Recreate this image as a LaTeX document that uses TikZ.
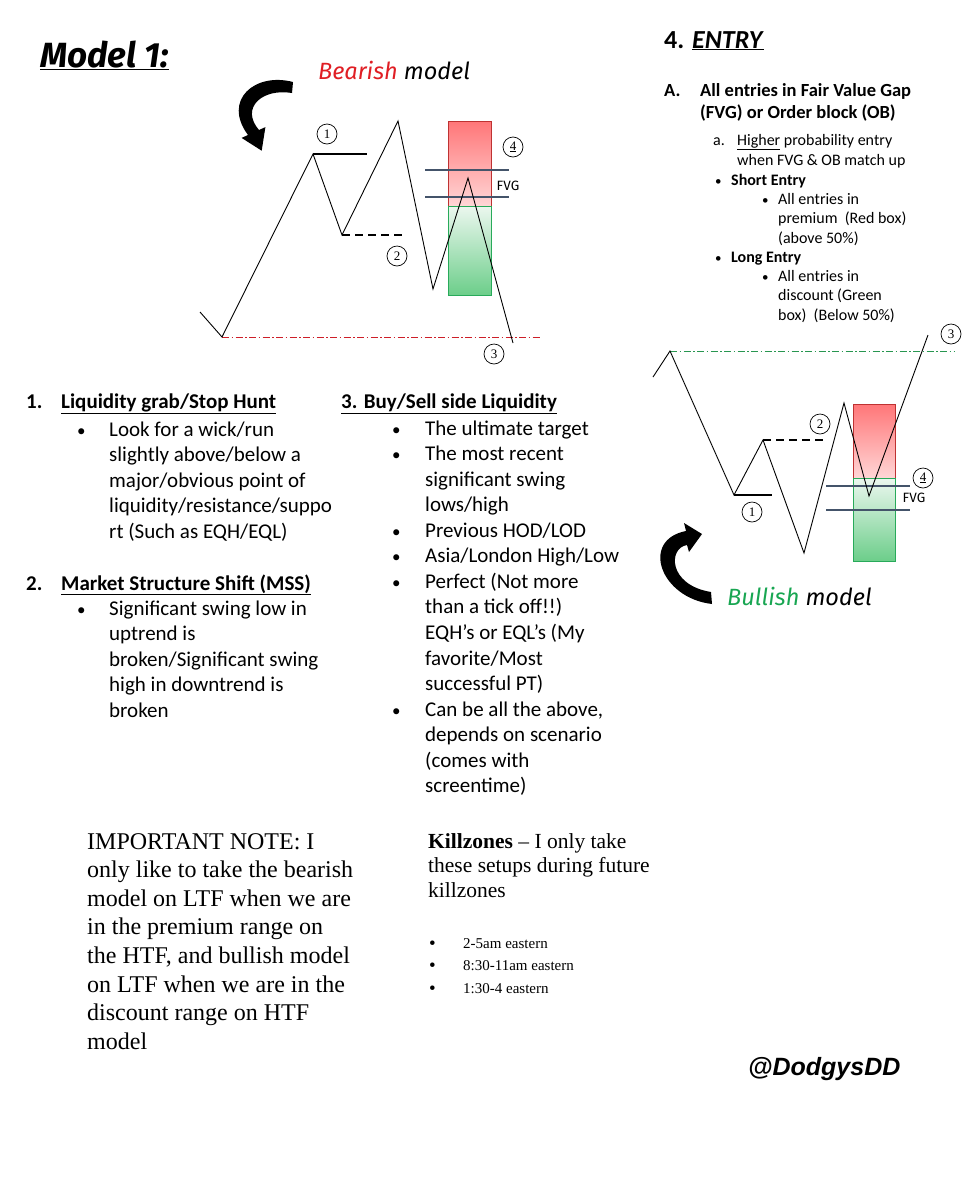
\documentclass[tikz,border=0pt]{standalone}
\usepackage{fontspec}
\setmainfont{Carlito}
\newfontfamily\notefont{Liberation Serif}
\newfontfamily\firafont{Fira Sans}
\newfontfamily\arialfont{Liberation Sans}
\usetikzlibrary{arrows.meta}
\definecolor{bearred}{RGB}{224,30,36}
\definecolor{bullgreen}{RGB}{24,166,82}
\definecolor{fvgline}{RGB}{68,84,106}
\definecolor{boxredtop}{RGB}{255,118,120}
\definecolor{boxredbot}{RGB}{255,214,214}
\definecolor{boxgreentop}{RGB}{236,247,239}
\definecolor{boxgreenbot}{RGB}{108,206,138}
\definecolor{redborder}{RGB}{190,50,50}
\definecolor{greenborder}{RGB}{40,170,90}
\definecolor{redline}{RGB}{205,30,40}
\definecolor{greenline}{RGB}{40,150,80}
\tikzset{
  txt/.style={inner sep=0, anchor=base west},
  bd/.style={txt, font=\fontsize{21}{25}\selectfont},
  bul/.style={txt, font=\fontsize{17}{25}\selectfont},
  hd/.style={txt, font=\bfseries\fontsize{21}{25}\selectfont},
  ehd/.style={txt, font=\bfseries\fontsize{26}{30}\selectfont},
  ea/.style={txt, font=\bfseries\fontsize{18.5}{22}\selectfont},
  eb/.style={txt, font=\fontsize{16}{20}\selectfont},
  ebul/.style={txt, font=\fontsize{13}{20}\selectfont},
  notetxt/.style={txt, font=\notefont\fontsize{24}{28}\selectfont},
  kz/.style={txt, font=\notefont\fontsize{21.5}{24}\selectfont},
  kzb/.style={txt, font=\notefont\fontsize{15}{18}\selectfont},
  kzdot/.style={txt, font=\notefont\fontsize{19}{18}\selectfont},
  cnum/.style={circle, draw, line width=0.7, minimum size=20, inner sep=0, font=\notefont\fontsize{13}{13}\selectfont},
  fvglab/.style={inner sep=0, font=\firafont\fontsize{13.5}{13.5}\selectfont},
  price/.style={line width=0.9, line join=miter},
  level/.style={line width=2.4},
  fvgl/.style={fvgline, line width=2},
  dashdotline/.style={line width=1, dash pattern=on 7pt off 2.5pt on 1.5pt off 2.5pt},
}
\begin{document}
\begin{tikzpicture}[x=1pt,y=-1pt]
\fill[white] (0,0) rectangle (970,1200);
\useasboundingbox (0,0) rectangle (970,1200);

% ---------- Title ----------
\node[txt, name=title, font=\firafont\bfseries\itshape\fontsize{35}{35}\selectfont] at (40,67) {\underline{Model 1:}};

% ---------- Bearish model ----------
\node[txt, name=bearlab, font=\firafont\itshape\fontsize{23.5}{23.5}\selectfont] at (318,79) {\textcolor{bearred}{Bearish} model};
\fill (293,82) .. controls (255,72) and (222,100) .. (248,135) -- (241.6,137.9) -- (261.7,150.7) -- (265.4,127.1) -- (259,130) .. controls (240,108) and (262,88) .. (292,93) -- cycle;

\shade[top color=boxredtop, bottom color=boxredbot] (448,121) rectangle (491,206);
\draw[redborder, line width=0.8] (448,121) rectangle (491,206);
\shade[top color=boxgreentop, bottom color=boxgreenbot] (448,206) rectangle (491,295);
\draw[greenborder, line width=0.8] (448,206) rectangle (491,295);

\draw[redline, dashdotline] (222,337) -- (542,337);
\draw[fvgl] (425,170) -- (509,170);
\draw[fvgl] (425,197) -- (509,197);
\draw[price] (200,312) -- (222,337) -- (313,154) -- (342,235) -- (398,121) -- (433,289) -- (468,178) -- (513,343);
\draw[level] (313,154) -- (367,154);
\draw[level, dash pattern=on 8pt off 5pt] (342,235) -- (405,235);

\node[fvglab, name=fvg1] at (508,186) {FVG};
\node[cnum, name=c1] at (327,134) {1};
\node[cnum, name=c2] at (397,256) {2};
\node[cnum, name=c3] at (494,354) {3};
\node[cnum, name=c4] at (513,147) {\underline{4}};

% ---------- Bullish model ----------
\node[txt, name=bulllab, font=\firafont\itshape\fontsize{23.5}{23.5}\selectfont] at (727,605) {\textcolor{bullgreen}{Bullish} model};
\fill (712,604) .. controls (660,598) and (640,540) .. (686,531) -- (684,523) -- (702,534) -- (689,552) -- (687,545) .. controls (668,548) and (668,585) .. (711,592) -- cycle;

\shade[top color=boxredtop, bottom color=boxredbot] (853,404) rectangle (895,478);
\draw[redborder, line width=0.8] (853,404) rectangle (895,478);
\shade[top color=boxgreentop, bottom color=boxgreenbot] (853,478) rectangle (895,561);
\draw[greenborder, line width=0.8] (853,478) rectangle (895,561);

\draw[greenline, dashdotline] (670,351) -- (955,351);
\draw[fvgl] (826,486) -- (910,486);
\draw[fvgl] (826,510) -- (910,510);
\draw[price] (653,377) -- (670,351) -- (734,495) -- (763,440) -- (804,553) -- (844,403) -- (869,496) -- (928,335);
\draw[level] (734,495) -- (772,495);
\draw[level, dash pattern=on 8pt off 5pt] (763,440) -- (826,440);

\node[fvglab, name=fvg2] at (914,498) {FVG};
\node[cnum, name=d1] at (752,512) {1};
\node[cnum, name=d2] at (820,424) {2};
\node[cnum, name=d3] at (951,334) {3};
\node[cnum, name=d4] at (923,478) {\underline{4}};

% ---------- Entry column ----------
\node[ehd, name=e4] at (664,48) {4. \underline{\textit{ENTRY}}};
\node[ea, name=eA] at (664,96) {A.};
\node[ea, name=eA1] at (700,96) {All entries in Fair Value Gap};
\node[ea, name=eA2] at (700,118) {(FVG) or Order block (OB)};
\node[eb, name=ea0] at (713,145) {a.};
\node[eb, name=ea1] at (737,145) {\underline{Higher} probability entry};
\node[eb, name=ea2] at (737,165.5) {when FVG \& OB match up};
\node[ebul, name=sbul] at (715,185) {•};
\node[eb, name=stxt] at (731,185) {\textbf{Short Entry}};
\node[ebul, name=ssbul] at (762,204) {•};
\foreach \t [count=\i from 0] in {All entries in, {premium\ \ (Red box)}, {(above 50\%)}}
  \node[eb, name=s\i] at (778,204+19.5*\i) {\t};
\node[ebul, name=lbul] at (715,262) {•};
\node[eb, name=ltxt] at (731,262) {\textbf{Long Entry}};
\node[ebul, name=llbul] at (762,281) {•};
\foreach \t [count=\i from 0] in {All entries in, {discount (Green}, {box)\ \ (Below 50\%)}}
  \node[eb, name=l\i] at (778,281+19.5*\i) {\t};

% ---------- Column 1 ----------
\node[hd, name=n1] at (26,408) {1.};
\node[hd, name=h1] at (61,408) {\underline{Liquidity grab/Stop Hunt}};
\node[bul, name=b1] at (77,436) {•};
\foreach \t [count=\i from 0] in {Look for a wick/run, slightly above/below a, major/obvious point of, liquidity/resistance/suppo, {rt (Such as EQH/EQL)}}
  \node[bd, name=p\i] at (109,436+25.6*\i) {\t};
\node[hd, name=n2] at (26,590) {2.};
\node[hd, name=h2] at (61,590) {\underline{Market Structure Shift (MSS)}};
\node[bul, name=b2] at (77,615) {•};
\foreach \t [count=\i from 0] in {Significant swing low in, uptrend is, broken/Significant swing, high in downtrend is, broken}
  \node[bd, name=q\i] at (109,615+25.6*\i) {\t};

% ---------- Column 2 ----------
\node[hd, name=h3] at (341,408) {\underline{3. Buy/Sell side Liquidity}};
\foreach \t [count=\i from 0] in {The ultimate target, The most recent, significant swing, lows/high, Previous HOD/LOD, Asia/London High/Low, {Perfect (Not more}, {than a tick off!!)}, {EQH’s or EQL’s (My}, favorite/Most, {successful PT)}, {Can be all the above,}, depends on scenario, {(comes with}, {screentime)}}
  \node[bd, name=m\i] at (425,435+25.57*\i) {\t};
\foreach \k in {0,1,4,5,6,11}
  \node[bul, name=mb\k] at (392,435+25.57*\k) {•};

% ---------- Important note ----------
\foreach \t [count=\i from 0] in {IMPORTANT NOTE: I, only like to take the bearish, model on LTF when we are, in the premium range on, {the HTF, and bullish model}, on LTF when we are in the, discount range on HTF, model}
  \node[notetxt, name=nt\i] at (87,849+28.6*\i) {\t};

% ---------- Killzones ----------
\node[kz, name=k0] at (428,848) {\textbf{Killzones} – I only take};
\node[kz, name=k1] at (428,872.5) {these setups during future};
\node[kz, name=k2] at (428,897) {killzones};
\foreach \t [count=\i from 0] in {2-5am eastern, 8:30-11am eastern, 1:30-4 eastern} {
  \node[kzdot, name=kb\i] at (429,949+22.5*\i) {•};
  \node[kzb, name=kt\i] at (463,948+22.5*\i) {\t};
}

% ---------- Signature ----------
\node[txt, name=dd, font=\arialfont\bfseries\itshape\fontsize{25}{25}\selectfont] at (748,1075) {@DodgysDD};
\end{tikzpicture}
\end{document}
